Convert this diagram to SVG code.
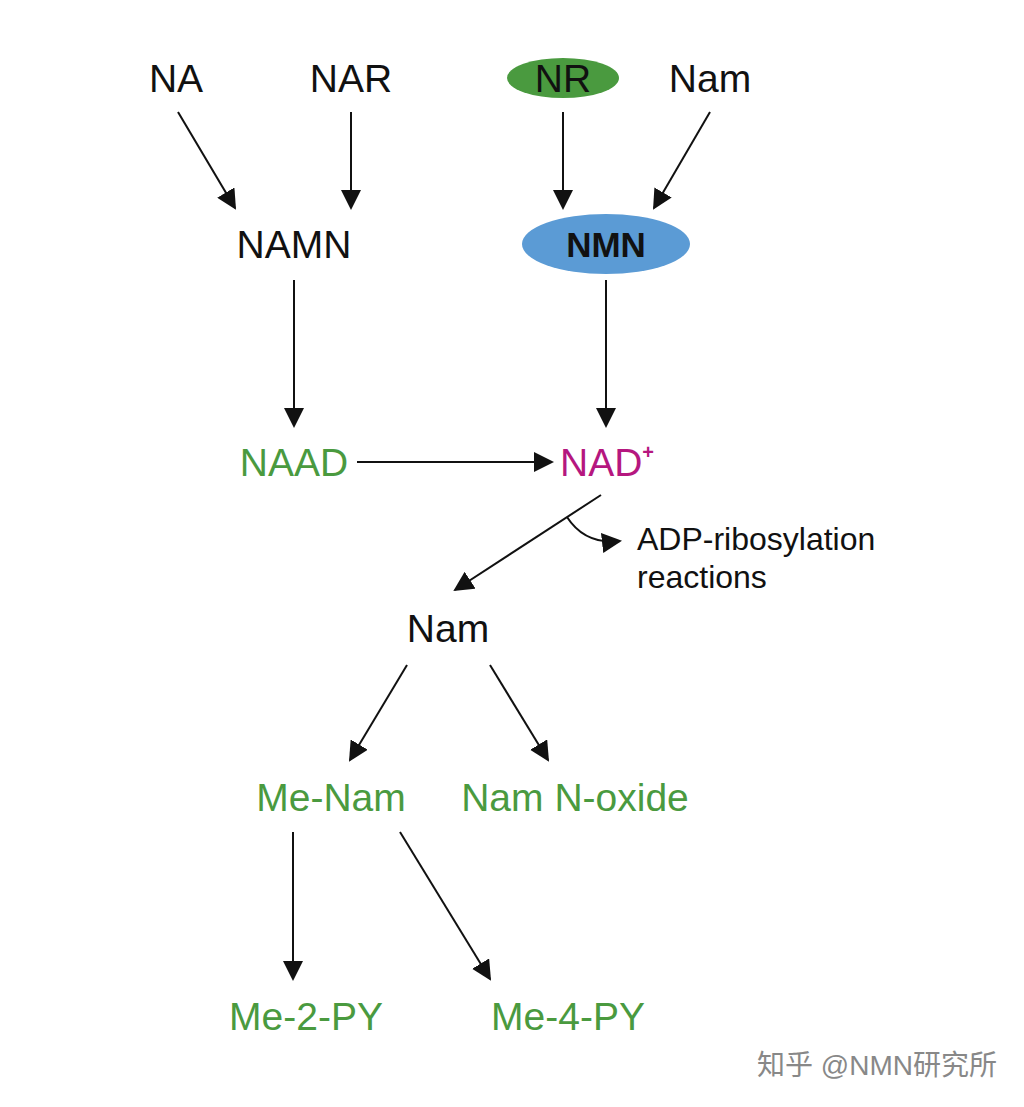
<svg xmlns="http://www.w3.org/2000/svg" width="1024" height="1107" viewBox="0 0 1024 1107">
<style>
text{font-family:"Liberation Sans",Arial,sans-serif;font-size:39px;text-anchor:middle;fill:#111}
.g{fill:#4a9a3f}
.c line,.c path{stroke:#111;stroke-width:2;fill:none}
.s{font-size:32px;text-anchor:start}
</style>
<defs><marker id="b" viewBox="0 0 10 10" refX="9" refY="5" markerWidth="20" markerHeight="20" markerUnits="userSpaceOnUse" orient="auto"><path d="M0,0L10,5L0,10z" fill="#111"/></marker></defs>
<rect width="1024" height="1107" fill="#fff"/>
<g id="NA"><text x="176" y="92">NA</text></g>
<g id="NAR"><text x="351" y="92">NAR</text></g>
<g id="NR"><ellipse cx="563" cy="78" rx="56" ry="20" fill="#4a9a3f"/><text x="563" y="92">NR</text></g>
<g id="Nam1"><text x="710" y="92">Nam</text></g>
<g id="NAMN"><text x="294" y="258">NAMN</text></g>
<g id="NMN"><ellipse cx="606" cy="244" rx="84" ry="30" fill="#5b9bd5"/><text x="606" y="257" font-weight="bold" style="font-size:35px">NMN</text></g>
<g id="NAAD"><text class="g" x="294" y="476">NAAD</text></g>
<g id="NAD"><text x="560" y="476" style="text-anchor:start;fill:#b5177f">NAD<tspan dy="-17" style="font-size:20px;font-weight:bold">+</tspan></text></g>
<g id="ADP"><text class="s" x="637" y="550">ADP-ribosylation</text><text class="s" x="637" y="588">reactions</text></g>
<g id="Nam2"><text x="448" y="642">Nam</text></g>
<g id="MeNam"><text class="g" x="331" y="811">Me-Nam</text></g>
<g id="NamNoxide"><text class="g" x="575" y="811">Nam N-oxide</text></g>
<g id="Me2PY"><text class="g" x="306" y="1030">Me-2-PY</text></g>
<g id="Me4PY"><text class="g" x="568" y="1030">Me-4-PY</text></g>
<g class="c">
<line x1="178" y1="112" x2="235" y2="208" marker-end="url(#b)"/>
<line x1="351" y1="112" x2="351" y2="208" marker-end="url(#b)"/>
<line x1="563" y1="112" x2="563" y2="208" marker-end="url(#b)"/>
<line x1="710" y1="112" x2="654" y2="208" marker-end="url(#b)"/>
<line x1="294" y1="280" x2="294" y2="426" marker-end="url(#b)"/>
<line x1="606" y1="280" x2="606" y2="426" marker-end="url(#b)"/>
<line x1="357" y1="462" x2="552" y2="462" marker-end="url(#b)"/>
<line x1="601" y1="495" x2="455" y2="590" marker-end="url(#b)"/>
<path d="M567,517 Q585,545 620,541" marker-end="url(#b)"/>
<line x1="407" y1="665" x2="350" y2="760" marker-end="url(#b)"/>
<line x1="490" y1="665" x2="548" y2="760" marker-end="url(#b)"/>
<line x1="293" y1="832" x2="293" y2="979" marker-end="url(#b)"/>
<line x1="400" y1="832" x2="490" y2="979" marker-end="url(#b)"/>
</g>
<text x="997" y="1075" style="text-anchor:end;font-size:28px;fill:#888;font-family:'Liberation Sans','Noto Sans CJK SC',sans-serif">知乎 @NMN研究所</text>
</svg>
